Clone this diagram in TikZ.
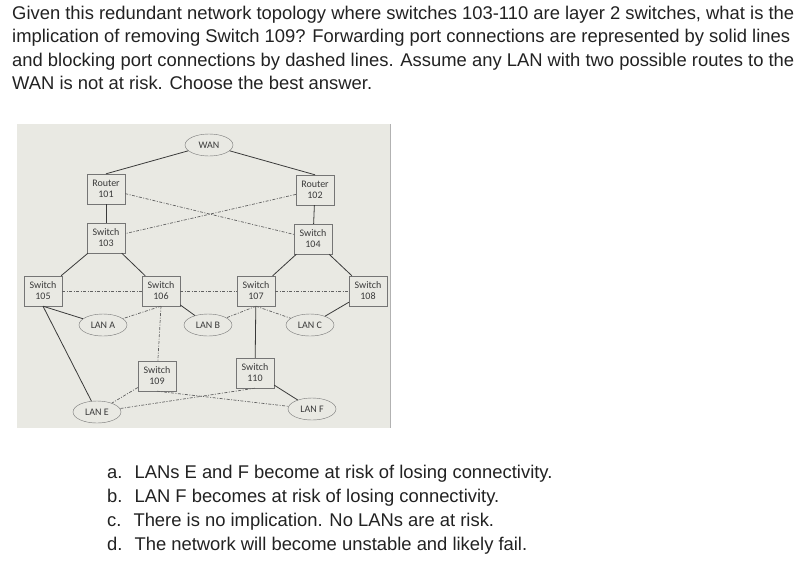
\documentclass[tikz,border=0pt]{standalone}
\usepackage{fontspec}
\setmainfont{Liberation Sans}
\newfontfamily\diag{Carlito}
\usetikzlibrary{shapes.geometric}
\definecolor{photo}{HTML}{E9E9E3}
\definecolor{ink}{HTML}{3A3A3A}
\definecolor{txt}{HTML}{222222}
\tikzset{
 qline/.style={anchor=base west,inner sep=0,font=\fontsize{18.4}{21}\selectfont,text=txt},
 box/.style={draw=ink!70,fill=photo,font=\diag\fontsize{10}{11}\selectfont,text=ink,align=center,minimum width=38pt,minimum height=30pt,inner sep=1pt},
 lan/.style={ellipse,draw=ink!70,fill=photo,font=\diag\fontsize{10}{11}\selectfont,text=ink,minimum width=48pt,minimum height=22pt,inner sep=0},
 fwd/.style={draw=ink,line width=0.8pt},
 blk/.style={draw=ink!80,line width=0.7pt,dash pattern=on 3pt off 1.5pt on 1pt off 1.5pt},
}
\begin{document}
\begin{tikzpicture}[x=1pt,y=-1pt]
\useasboundingbox (0,0) rectangle (809,566);
\fill[white] (0,0) rectangle (809,566);
\node[qline] (q1) at (12,19) {Given this redundant network topology where switches 103-110 are layer 2 switches, what is the};
\node[qline] (q2) at (12,42) {implication of removing Switch 109? Forwarding port connections are represented by solid lines};
\node[qline] (q3) at (12,66) {and blocking port connections by dashed lines. Assume any LAN with two possible routes to the};
\node[qline] (q4) at (12,89) {WAN is not at risk. Choose the best answer.};
\fill[photo] (17,124) rectangle (390,428);
\draw[gray!60] (390,124) -- (390,428);
\node[lan] (wan) at (209,145) {WAN};
\node[box] (r101) at (106,189) {Router\\101};
\node[box] (r102) at (315,190) {Router\\102};
\node[box] (s103) at (106,238) {Switch\\103};
\node[box] (s104) at (313,239) {Switch\\104};
\node[box] (s105) at (43,291) {Switch\\105};
\node[box] (s106) at (161,291) {Switch\\106};
\node[box] (s107) at (256,291) {Switch\\107};
\node[box] (s108) at (368,291) {Switch\\108};
\node[lan] (lana) at (103,325) {LAN A};
\node[lan] (lanb) at (208,325) {LAN B};
\node[lan] (lanc) at (310,325) {LAN C};
\node[box] (s109) at (157,376) {Switch\\109};
\node[box] (s110) at (255,373) {Switch\\110};
\node[lan] (lane) at (97,412) {LAN E};
\node[lan] (lanf) at (312,409) {LAN F};
\draw[fwd] (wan) -- (r101.north);
\draw[fwd] (wan) -- (r102.north);
\draw[fwd] (r101) -- (s103);
\draw[fwd] (r102) -- (s104);
\draw[fwd] (s103) -- (s105);
\draw[fwd] (s103) -- (s106);
\draw[fwd] (s104) -- (s107);
\draw[fwd] (s104) -- (s108);
\draw[fwd] (s105.south) -- (lana);
\draw[fwd] (s105.south) -- (lane);
\draw[fwd] (s106) -- (lanb);
\draw[fwd] (s107) -- (s110);
\draw[fwd] (s108) -- (lanc);
\draw[fwd] (s110) -- (lanf);
\draw[blk] (r101) -- (s104);
\draw[blk] (r102) -- (s103);
\draw[blk] (s105) -- (s106);
\draw[blk] (s106) -- (s107);
\draw[blk] (s107) -- (s108);
\draw[blk] (s106.south) -- (lana);
\draw[blk] (s106.south) -- (s109);
\draw[blk] (s107.south) -- (lanb);
\draw[blk] (s107.south) -- (lanc);
\draw[blk] (s109) -- (lane);
\draw[blk] (s109.south) -- (lanf);
\draw[blk] (s110.south) -- (lane);
\node[qline] (a) at (107,478) {a.\hspace{12pt}LANs E and F become at risk of losing connectivity.};
\node[qline] (b) at (107,502) {b.\hspace{12pt}LAN F becomes at risk of losing connectivity.};
\node[qline] (c) at (107,526) {c.\hspace{12pt}There is no implication. No LANs are at risk.};
\node[qline] (d) at (107,550) {d.\hspace{12pt}The network will become unstable and likely fail.};
\end{tikzpicture}
\end{document}
